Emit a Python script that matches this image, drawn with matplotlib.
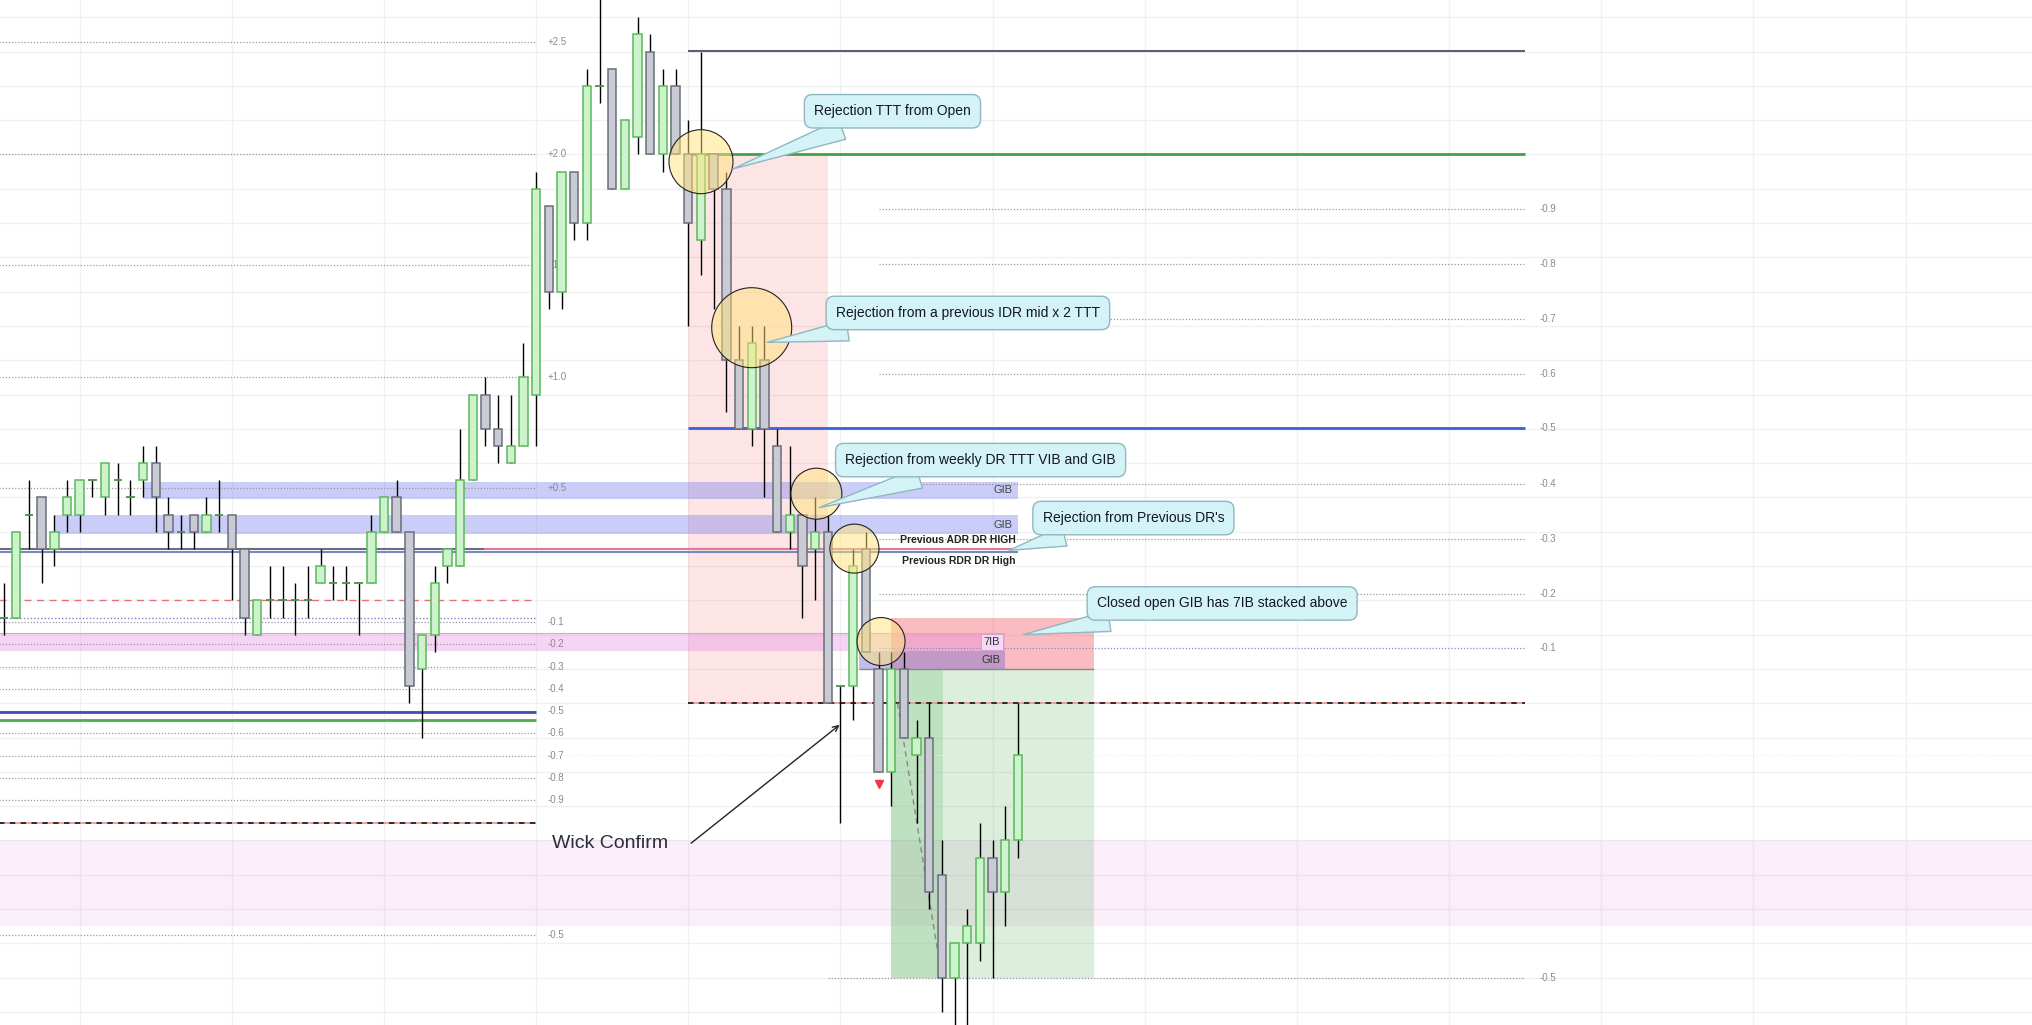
import numpy as np
import matplotlib
matplotlib.use("Agg")
import matplotlib.pyplot as plt
from matplotlib.patches import Ellipse

plt.rcParams['font.family'] = ['Liberation Sans', 'DejaVu Sans']

# ---- candles (price points) ----
opens = [225, 225, 255, 260, 245, 255, 255, 265, 260, 265,
         260, 265, 270, 255, 250, 255, 250, 255, 255, 245,
         220, 230, 230, 230, 230, 235, 235, 235, 235, 235,
         250, 260, 250, 210, 220, 240, 240, 265, 290, 280,
         270, 275, 290, 345, 320, 355, 340, 380, 385, 350,
         365, 390, 360, 380, 360, 335, 360, 350, 300, 280,
         300, 275, 250, 255, 245, 250, 205, 205, 245, 210,
         180, 210, 185, 190, 150, 120, 130, 130, 155, 145,
         160]
highs = [235, 250, 265, 260, 255, 265, 265, 265, 270, 270,
         265, 275, 275, 260, 255, 255, 260, 265, 255, 245,
         230, 240, 240, 235, 240, 245, 240, 240, 235, 255,
         260, 265, 250, 220, 240, 245, 280, 290, 295, 290,
         290, 305, 355, 345, 355, 355, 385, 410, 385, 370,
         400, 395, 385, 385, 370, 390, 360, 355, 310, 310,
         310, 280, 275, 255, 260, 255, 205, 245, 250, 215,
         215, 215, 195, 200, 160, 130, 140, 165, 160, 170,
         200]
lows = [220, 225, 245, 235, 240, 250, 250, 260, 255, 255,
        255, 260, 250, 245, 245, 245, 250, 250, 230, 220,
        220, 225, 225, 220, 225, 235, 230, 230, 220, 235,
        250, 250, 200, 190, 215, 235, 240, 265, 275, 270,
        270, 275, 275, 315, 315, 335, 335, 375, 350, 350,
        360, 360, 355, 360, 310, 325, 315, 285, 280, 275,
        260, 250, 245, 225, 230, 200, 165, 195, 215, 180,
        170, 190, 165, 140, 110, 100, 100, 125, 120, 135,
        155]
closes = [225, 250, 255, 245, 250, 260, 265, 265, 270, 265,
          260, 270, 260, 250, 250, 250, 255, 255, 245, 225,
          230, 230, 230, 230, 230, 240, 235, 235, 235, 250,
          260, 250, 205, 220, 235, 245, 265, 290, 280, 275,
          275, 295, 350, 320, 355, 340, 380, 380, 350, 370,
          395, 360, 380, 360, 340, 360, 350, 300, 280, 305,
          280, 250, 255, 240, 250, 200, 205, 240, 215, 180,
          210, 190, 190, 145, 120, 130, 135, 155, 145, 160,
          185]

# left std-dev projection levels
left_labels = ['+2.5', '+2.0', '+1.5', '+1.0', '+0.5', '-0.1', '-0.2', '-0.3',
               '-0.4', '-0.5', '-0.6', '-0.7', '-0.8', '-0.9', '-0.5']
left_prices = [392.7, 360.2, 327.7, 295.2, 262.7, 223.7, 217.2, 210.7,
               204.2, 197.7, 191.2, 184.7, 178.2, 171.7, 132.4]

# right projection levels
right_labels = ['-0.9', '-0.8', '-0.7', '-0.6', '-0.5', '-0.4', '-0.3', '-0.2', '-0.1', '-0.5']
right_prices = [344, 328, 312, 296, 280.2, 264, 248, 232, 216, 120]

# zones: (x0, x1, low, high)
gib_bands = [(11, 80, 259.7, 264.4), (4, 80, 249.3, 254.8)]
band_7ib = (-1, 79, 215.3, 220.4)
gib_box = (67.5, 79, 209.9, 215.3)
short_zone = (54, 65, 200, 360.2)
pos_stop = (70, 86, 209.9, 224.9)
pos_target = (70, 86, 119.9, 209.9)
low_band = (-1, 161, 135, 160)

# yellow circles: (center x, center price, diameter px)
circles = [(55.0, 357.9, 64), (59.0, 309.5, 80), (64.1, 261.1, 51),
           (67.1, 245.1, 49), (69.2, 218.0, 48)]

# callouts: text, box centre, pointer tip
callouts = [
    ("Rejection TTT from Open", (70.1, 372.6), (57.3, 355.5)),
    ("Rejection from a previous IDR mid x 2 TTT", (76.05, 313.8), (60.0, 305.1)),
    ("Rejection from weekly DR TTT VIB and GIB", (77.05, 270.9), (64.1, 256.8)),
    ("Rejection from Previous DR's", (89.1, 254.0), (79.1, 244.4)),
    ("Closed open GIB has 7IB stacked above", (96.1, 229.1), (80.2, 219.9)),
]

# ---- figure ----
fig = plt.figure(figsize=(20.32, 10.25), dpi=100)
ax = fig.add_axes([0, 0, 1, 1])
ax.set_xlim(-0.284, 159.97)
ax.set_ylim(106.2, 405.04)
px_x = 12.68   # pixels per bar
px_y = 3.43    # pixels per point

ax.set_xticks(np.arange(6, 160, 12))
ax.set_yticks(np.arange(110, 410, 10))
ax.tick_params(length=0, labelbottom=False, labelleft=False)
for s in ax.spines.values():
    s.set_visible(False)
ax.grid(color='#f0f1f4', lw=1)
ax.set_axisbelow(True)


def zone(z, color, alpha, zo=1, **kw):
    ax.fill_between([z[0], z[1]], z[2], z[3], color=color, alpha=alpha, lw=0, zorder=zo, **kw)


zone(low_band, '#e07ee0', 0.13)
zone(short_zone, '#f23645', 0.13)
for b in gib_bands:
    zone(b, '#7b83eb', 0.4)
zone(pos_stop, '#f23645', 0.33)
zone(pos_target, '#4caf50', 0.2)
zone((70, 74.1, pos_target[2], pos_target[3]), '#4caf50', 0.2)
zone(band_7ib, '#e07ee0', 0.32)
ax.hlines(band_7ib[3], -1, 79, color='#d6a6d6', lw=0.8, zorder=1)
zone(gib_box, '#7b6fd0', 0.45)
ax.hlines(pos_stop[2], 67.5, 86, color='#8a8a8a', lw=1, zorder=2)

# band labels
ax.text(79.6, 262.05, 'GIB', ha='right', va='center', fontsize=8, color='#444', zorder=6)
ax.text(79.6, 252.05, 'GIB', ha='right', va='center', fontsize=8, color='#444', zorder=6)
ax.text(78.6, 217.85, '7IB', ha='right', va='center', fontsize=8, color='#333', zorder=6,
        bbox=dict(boxstyle='square,pad=0.25', fc='#f8d6f6', ec='#c9a0c9', lw=0.6))
ax.text(78.6, 212.6, 'GIB', ha='right', va='center', fontsize=8, color='#333', zorder=6)

# left projection lines
for lab, p in zip(left_labels, left_prices):
    ax.hlines(p, -1, 42, color='#9a9a9a', lw=0.9, ls=(0, (1, 1.5)), zorder=2)
    ax.text(42.9, p, lab, ha='left', va='center', fontsize=7, color='#8a8a8a', zorder=1.5)
ax.hlines(230.0, -1, 42, color='#e57373', lw=1, ls=(0, (5, 4)), zorder=2)
ax.hlines(225.0, -1, 42, color='#7986cb', lw=1, ls=(0, (1, 1.5)), zorder=2)
ax.hlines(197.5, -1, 42, color='#3f51b5', lw=2, zorder=2)
ax.hlines(195.1, -1, 42, color='#4caf50', lw=2, zorder=2)
ax.hlines(165.0, -1, 42, color='#ef9a9a', lw=1.3, zorder=2)
ax.hlines(165.0, -1, 42, color='#222', lw=1.3, ls=(0, (3, 3)), zorder=2)
ax.hlines(184.8, 42, 161, color='#ececec', lw=0.8, ls=(0, (1, 1.5)), zorder=1)

# previous DR highs
ax.hlines(245.1, -1, 37.9, color='#6b6e7a', lw=1.5, zorder=2)
ax.hlines(245.1, 37.9, 80, color='#e07a9a', lw=1.5, zorder=2)
ax.hlines(244.2, -1, 80, color='#7a88c0', lw=1.5, zorder=2)
ax.text(79.8, 247.6, 'Previous ADR DR HIGH', ha='right', va='center', fontsize=7.5,
        color='#222', weight='bold', zorder=6)
ax.text(79.8, 241.5, 'Previous RDR DR High', ha='right', va='center', fontsize=7.5,
        color='#222', weight='bold', zorder=6)

# right projection lines
for lab, p in zip(right_labels, right_prices):
    x0 = 65 if p < 150 else 69
    if lab == '-0.5' and p > 150:
        ax.hlines(p, 54, 120, color='#3f5fd6', lw=2, zorder=2)
    else:
        c = '#7e8fd0' if lab == '-0.1' else '#9a9a9a'
        ax.hlines(p, x0, 120, color=c, lw=0.9, ls=(0, (1, 1.5)), zorder=2)
    ax.text(121.1, p, lab, ha='left', va='center', fontsize=7, color='#8a8a8a', zorder=2)
ax.hlines(390.1, 54, 120, color='#5d606b', lw=1.5, zorder=2)
ax.hlines(360.2, 54, 120, color='#43a047', lw=2, zorder=2)
ax.hlines(200.0, 54, 120, color='#ef9a9a', lw=1.3, zorder=2)
ax.hlines(200.0, 54, 120, color='#222', lw=1.3, ls=(0, (3, 3)), zorder=2)
ax.plot([70.5, 74.0], [200, 120], color='#888', lw=1, ls=(0, (4, 3)), zorder=2)

# candles
for i, (o, h, l, c) in enumerate(zip(opens, highs, lows, closes)):
    ax.vlines(i, l, h, color='black', lw=1.0, zorder=3)
    if o == c:
        ax.hlines(o, i - 0.33, i + 0.33, color='#4f8f4f', lw=1.3, zorder=4)
    elif c > o:
        ax.bar(i, c - o, bottom=o, width=0.66, color='#cdf3cd', edgecolor='#5cb85c', lw=1.1, zorder=4)
    else:
        ax.bar(i, o - c, bottom=c, width=0.66, color='#c9cbd4', edgecolor='#6b6e7a', lw=1.1, zorder=4)

# sell marker
ax.plot(69, 176.5, marker='v', color='#f23645', ms=6, zorder=5)

# yellow circles
for cx, cy, d in circles:
    ax.add_patch(Ellipse((cx, cy), d / px_x, d / px_y, fc='#ffe27a', alpha=0.5, lw=0, zorder=5))
    ax.add_patch(Ellipse((cx, cy), d / px_x, d / px_y, fill=False, ec='#222', lw=0.8, zorder=5))

# callouts
for txt, (bx, by), (tx, ty) in callouts:
    ax.annotate(txt, xy=(tx, ty), xytext=(bx, by), ha='center', va='center', fontsize=10,
                color='#131722', zorder=7,
                bbox=dict(boxstyle='round,pad=0.7,rounding_size=0.6', fc='#d4f3f7', ec='#8fb7c0', lw=1),
                arrowprops=dict(arrowstyle='wedge,tail_width=1.5,shrink_factor=0.5',
                                fc='#d4f3f7', ec='#8fb7c0', lw=1))

# wick confirm
ax.text(43.25, 159, 'Wick Confirm', ha='left', va='center', fontsize=14, color='#2a2e39', zorder=6)
ax.annotate('', xy=(66.1, 194.2), xytext=(54.05, 158.7),
            arrowprops=dict(arrowstyle='->', color='#222', lw=1), zorder=6)

fig.savefig('out.png', dpi=100)
